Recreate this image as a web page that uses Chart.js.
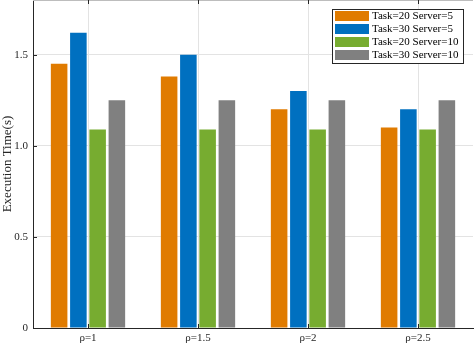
<!DOCTYPE html>
<html>
<head>
<meta charset="utf-8">
<script src="https://cdn.jsdelivr.net/npm/chart.js@4.4.0/dist/chart.umd.min.js"></script>
<style>
  html, body { margin: 0; padding: 0; background: #fff; }
  #wrap { width: 474px; height: 347px; }
</style>
</head>
<body>
<div id="wrap"><canvas id="myChart"></canvas></div>
<script>
// values
const categories = ['ρ=1', 'ρ=1.5', 'ρ=2', 'ρ=2.5'];
const task20server5 = [1.45, 1.38, 1.20, 1.10];
const task30server5 = [1.62, 1.50, 1.30, 1.20];
const task20server10 = [1.09, 1.09, 1.09, 1.09];
const task30server10 = [1.25, 1.25, 1.25, 1.25];
const yTicks = [0, 0.5, 1, 1.5];

const serif = '"Liberation Serif", "Times New Roman", serif';

// legend inside the plot, with a box round it
const boxLegend = {
    id: 'boxLegend',
    afterDraw(chart) {
        const c = chart.ctx;
        const x0 = 332, y0 = 9, w = 131, h = 54;
        c.save();
        c.fillStyle = '#fff';
        c.fillRect(x0, y0, w, h);
        c.strokeStyle = '#262626';
        c.lineWidth = 1;
        c.strokeRect(x0 + 0.5, y0 + 0.5, w, h);
        c.font = '11px ' + serif;
        c.textBaseline = 'middle';
        chart.data.datasets.forEach((ds, i) => {
            const yy = y0 + 7 + i * 13;
            c.fillStyle = ds.backgroundColor;
            c.fillRect(x0 + 3, yy - 5, 34, 10);
            c.fillStyle = '#000';
            c.fillText(ds.label, x0 + 40, yy + 0.5);
        });
        c.restore();
    }
};

// top border and small inward tick marks like the original
const axesBox = {
    id: 'axesBox',
    afterDatasetsDraw(chart) {
        const c = chart.ctx;
        const a = chart.chartArea;
        const xs = chart.scales.x, ys = chart.scales.y;
        c.save();
        c.strokeStyle = '#bdbdbd';
        c.lineWidth = 1;
        c.beginPath();
        c.moveTo(a.left, a.top + 0.5);
        c.lineTo(a.right, a.top + 0.5);
        c.stroke();
        c.strokeStyle = '#262626';
        c.beginPath();
        categories.forEach((_, i) => {
            const px = Math.round(xs.getPixelForValue(i)) + 0.5;
            c.moveTo(px, a.bottom);
            c.lineTo(px, a.bottom - 4);
            c.moveTo(px, a.top);
            c.lineTo(px, a.top + 4);
        });
        yTicks.forEach(v => {
            const py = Math.round(ys.getPixelForValue(v)) + 0.5;
            c.moveTo(a.left, py);
            c.lineTo(a.left + 4, py);
        });
        c.stroke();
        c.restore();
    }
};

const ctx = document.getElementById('myChart');

const myChart = new Chart(ctx, {
    type: 'bar',
    data: {
        labels: categories,
        datasets: [
            { label: 'Task=20 Server=5', data: task20server5, backgroundColor: '#E07B00' },
            { label: 'Task=30 Server=5', data: task30server5, backgroundColor: '#0070C0' },
            { label: 'Task=20 Server=10', data: task20server10, backgroundColor: '#77AC30' },
            { label: 'Task=30 Server=10', data: task30server10, backgroundColor: '#808080' }
        ]
    },
    options: {
        responsive: true,
        maintainAspectRatio: false,
        animation: false,
        layout: { padding: { top: 0, right: 1, left: 0, bottom: 0 } },
        datasets: {
            bar: { categoryPercentage: 0.7, barPercentage: 0.86 }
        },
        plugins: {
            legend: { display: false },
            tooltip: { enabled: false }
        },
        scales: {
            x: {
                offset: true,
                grid: { offset: false, color: '#e3e3e3', drawTicks: false },
                border: { color: '#262626', width: 1 },
                ticks: {
                    color: '#262626',
                    padding: 4,
                    font: { family: serif, size: 11 }
                },
                afterFit(s) { s.height = 19; s.paddingLeft = 0; s.paddingRight = 0; }
            },
            y: {
                min: 0,
                max: 1.8,
                afterBuildTicks(s) { s.ticks = yTicks.map(v => ({ value: v })); },
                grid: { color: '#e3e3e3', drawTicks: false },
                border: { color: '#262626', width: 1 },
                ticks: {
                    color: '#262626',
                    padding: 5,
                    font: { family: serif, size: 11 }
                },
                title: {
                    display: true,
                    text: 'Execution Time(s)',
                    color: '#262626',
                    padding: { top: 0, bottom: 0 },
                    font: { family: serif, size: 13 }
                },
                afterFit(s) { s.width = 33; s.paddingTop = 0; s.paddingBottom = 0; }
            }
        }
    },
    plugins: [boxLegend, axesBox]
});
</script>
</body>
</html>
